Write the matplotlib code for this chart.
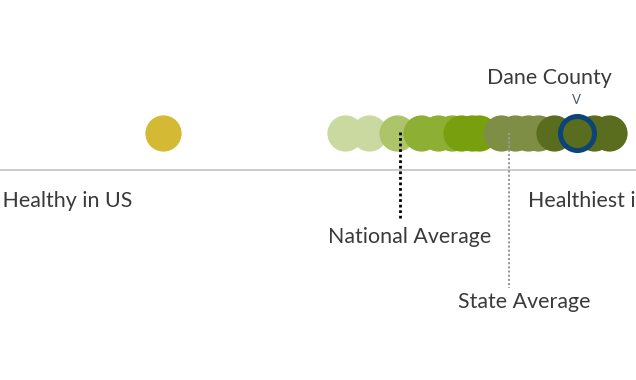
import matplotlib
matplotlib.use("Agg")
from matplotlib import pyplot as plt

# county scores on a 0-100 health scale (left = least healthy)
scores = [25.6, 54.2, 58.0, 62.4, 66.2, 68.9, 71.1, 72.5, 74.2, 75.3,
          78.8, 81.0, 83.0, 84.6, 87.1, 90.7, 93.4, 95.8]
groups = [0, 1, 1, 2, 3, 3, 3, 4, 4, 4, 5, 5, 5, 5, 6, 6, 6, 6]
group_colors = ["#d4b935", "#c9d9a0", "#adc46b", "#8db034",
                "#78a00e", "#7e8f45", "#5a6d1e"]

national_avg = 62.9
state_avg = 80.0
dane_county = 90.7

label_left = "Least Healthy in US"
label_right = "Healthiest in US"

plt.rcParams['font.family'] = ['Lato', 'DejaVu Sans']

fig = plt.figure(figsize=(6.36, 3.80), dpi=100)
ax = fig.add_axes([0, 0, 1, 1])
ax.set_xlim(0, 100)
ax.set_ylim(380, 0)
ax.axis("off")

y_row = 133
txt = "#3a3a3a"
fs = 15.4

for x, g in zip(scores, groups):
    ax.scatter([x], [y_row], s=680, color=group_colors[g], linewidths=0, zorder=2)

# averages
ax.plot([national_avg, national_avg], [132, 218], color="black",
        linestyle=(0, (1, 1)), linewidth=2, zorder=3)
ax.plot([state_avg, state_avg], [133, 288], color="#9a9a9a",
        linestyle=(0, (1, 1)), linewidth=1.5, zorder=3)

# Dane County highlight
ax.scatter([dane_county], [y_row], s=600, color=group_colors[6],
           edgecolors="#0b4577", linewidths=3.6, zorder=4)

ax.axhline(170, color="#c8c8c8", linewidth=1.3, zorder=0)

# left label runs off the left edge so only "Healthy in US" shows
renderer = fig.canvas.get_renderer()
probe = ax.text(0, 0, "Least ", fontsize=fs)
w_least = probe.get_window_extent(renderer).width
probe.remove()
x_left = ax.transData.inverted().transform((3 - w_least, 0))[0]
ax.text(x_left, 201, label_left, ha="left", va="center", fontsize=fs, color=txt)
ax.text(83.0, 201, label_right, ha="left", va="center", fontsize=fs, color=txt)
ax.text(national_avg + 1.5, 237, "National Average", ha="center", va="center",
        fontsize=fs, color=txt)
ax.text(state_avg + 2.5, 302, "State Average", ha="center", va="center",
        fontsize=fs, color=txt)
ax.text(dane_county - 4.3, 78, "Dane County", ha="center", va="center",
        fontsize=fs, color=txt)
ax.text(dane_county, 100, "V", ha="center", va="center", fontsize=9.5,
        color="#4a5a70")

fig.savefig("out.png", dpi=100)
